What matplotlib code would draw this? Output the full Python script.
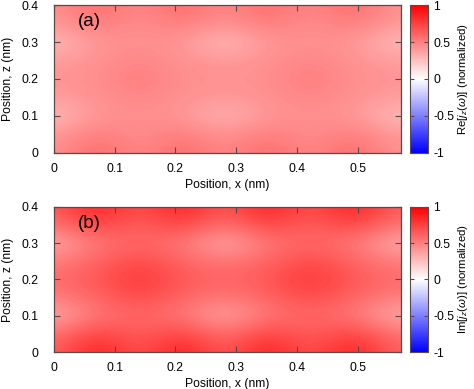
import numpy as np
import matplotlib
matplotlib.use('Agg')
import matplotlib.pyplot as plt
from matplotlib.colors import LinearSegmentedColormap

plt.rcParams['font.family'] = ['Liberation Sans', 'DejaVu Sans']
plt.rcParams['mathtext.fontset'] = 'custom'
plt.rcParams['mathtext.rm'] = 'Liberation Sans'
plt.rcParams['mathtext.it'] = 'Liberation Sans:italic'

# grid nodes (nm)
x_nodes = [0.0, 0.07, 0.14, 0.21, 0.28, 0.35, 0.42, 0.49, 0.56]
z_nodes = [0.0, 0.05, 0.10, 0.15, 0.20, 0.25, 0.30, 0.35, 0.40]

# Re[j_z] normalized, rows from z=0 to z=0.4
re_vals = [
    [0.42, 0.60, 0.45, 0.60, 0.45, 0.60, 0.45, 0.60, 0.42],
    [0.40, 0.52, 0.44, 0.52, 0.42, 0.52, 0.44, 0.52, 0.40],
    [0.26, 0.42, 0.44, 0.42, 0.28, 0.42, 0.44, 0.42, 0.26],
    [0.38, 0.43, 0.48, 0.43, 0.40, 0.43, 0.48, 0.43, 0.38],
    [0.42, 0.44, 0.52, 0.44, 0.43, 0.44, 0.52, 0.44, 0.42],
    [0.38, 0.43, 0.48, 0.43, 0.40, 0.43, 0.48, 0.43, 0.38],
    [0.26, 0.42, 0.44, 0.42, 0.25, 0.42, 0.44, 0.42, 0.26],
    [0.40, 0.52, 0.44, 0.52, 0.42, 0.52, 0.44, 0.52, 0.40],
    [0.42, 0.60, 0.45, 0.60, 0.45, 0.60, 0.45, 0.60, 0.42],
]

# Im[j_z] normalized
im_vals = [
    [0.60, 0.92, 0.65, 0.92, 0.62, 0.92, 0.65, 0.92, 0.60],
    [0.55, 0.75, 0.62, 0.75, 0.55, 0.75, 0.62, 0.75, 0.55],
    [0.32, 0.55, 0.60, 0.55, 0.34, 0.55, 0.60, 0.55, 0.32],
    [0.50, 0.60, 0.72, 0.60, 0.52, 0.60, 0.72, 0.60, 0.50],
    [0.58, 0.66, 0.80, 0.66, 0.60, 0.66, 0.80, 0.66, 0.58],
    [0.50, 0.60, 0.72, 0.60, 0.52, 0.60, 0.72, 0.60, 0.50],
    [0.32, 0.55, 0.60, 0.55, 0.32, 0.55, 0.60, 0.55, 0.32],
    [0.55, 0.75, 0.62, 0.75, 0.55, 0.75, 0.62, 0.75, 0.55],
    [0.62, 0.92, 0.65, 0.92, 0.62, 0.92, 0.65, 0.92, 0.62],
]

cb_labels = [r'Re[$j_z$($\omega$)] (normalized)', r'Im[$j_z$($\omega$)] (normalized)']
panel_tags = ['(a)', '(b)']

cmap = LinearSegmentedColormap.from_list('bwr2', ['#0000ff', '#ffffff', '#ff0000'])
frame = '#5a4a4a'

fig = plt.figure(figsize=(4.74, 3.89), dpi=100)
ax_boxes = [[0.113, 0.607, 0.733, 0.380], [0.113, 0.095, 0.733, 0.373]]
cb_boxes = [[0.865, 0.607, 0.038, 0.380], [0.865, 0.095, 0.038, 0.373]]

dx = x_nodes[1] - x_nodes[0]
dz = z_nodes[1] - z_nodes[0]
ext = [x_nodes[0] - dx / 2, x_nodes[-1] + dx / 2, z_nodes[0] - dz / 2, z_nodes[-1] + dz / 2]

for vals, box, cbox, lab, tag in zip([re_vals, im_vals], ax_boxes, cb_boxes, cb_labels, panel_tags):
    ax = fig.add_axes(box)
    im = ax.imshow(np.array(vals), origin='lower', extent=ext, aspect='auto',
                   cmap=cmap, vmin=-1, vmax=1, interpolation='bicubic')
    ax.set_xlim(0, 0.57)
    ax.set_ylim(0, 0.4)
    ax.set_xticks([0, 0.1, 0.2, 0.3, 0.4, 0.5])
    ax.set_xticklabels(['0', '0.1', '0.2', '0.3', '0.4', '0.5'])
    ax.set_yticks([0, 0.1, 0.2, 0.3, 0.4])
    ax.set_yticklabels(['0', '0.1', '0.2', '0.3', '0.4'])
    ax.tick_params(direction='in', top=True, right=True, length=4, width=0.8,
                   color=frame, labelsize=8.7)
    ax.tick_params(axis='x', pad=7)
    ax.tick_params(axis='y', pad=11)
    for s in ax.spines.values():
        s.set_color(frame)
        s.set_linewidth(0.9)
    ax.set_xlabel('Position, x (nm)', fontsize=8.7, labelpad=3)
    ax.set_ylabel('Position, z (nm)', fontsize=8.7, labelpad=5)
    ax.text(0.04, 0.355, tag, fontsize=13.5, va='center', ha='left')

    cax = fig.add_axes(cbox)
    cb = fig.colorbar(im, cax=cax, ticks=[-1, -0.5, 0, 0.5, 1])
    cb.ax.set_yticklabels(['-1', '-0.5', '0', '0.5', '1'])
    cb.ax.tick_params(direction='in', left=True, right=True, length=3, width=0.8,
                      color=frame, labelsize=8.7, pad=4)
    cb.outline.set_edgecolor(frame)
    cb.outline.set_linewidth(0.8)
    cb.set_label(lab, fontsize=8.2, labelpad=1)

fig.savefig('out.png', dpi=100)
